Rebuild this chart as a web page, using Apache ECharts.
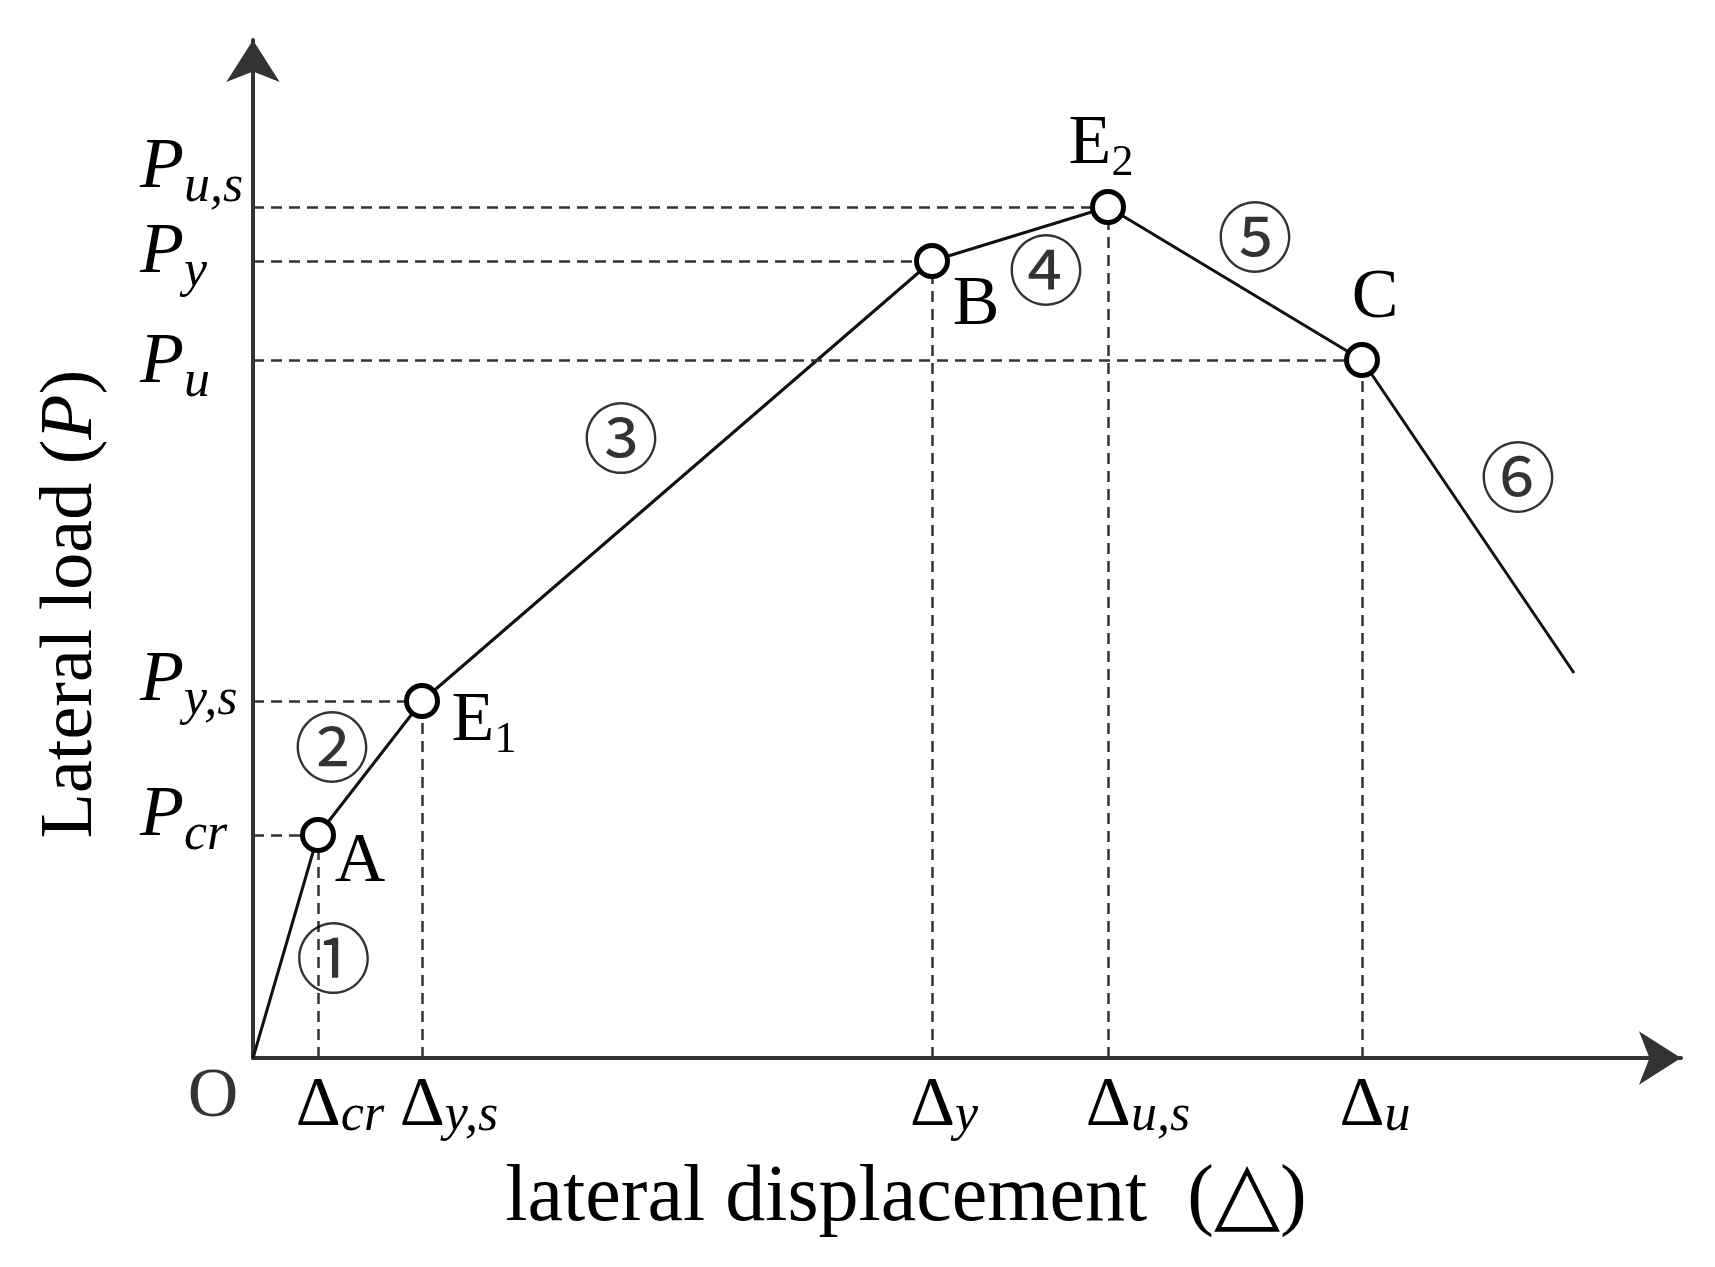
<!DOCTYPE html>
<html><head><meta charset="utf-8">
<script src="https://cdn.jsdelivr.net/npm/echarts@6/dist/echarts.min.js"></script>
<style>html,body{margin:0;padding:0;background:#fff}#c{width:1715px;height:1267px}</style>
</head><body><div id="c"></div>
<script>
// ---- data ----
const keyNames = ['A', 'E1', 'B', 'E2', 'C'];
const keyX = [6.5, 16.9, 67.9, 85.5, 110.9];
const keyY = [22.3, 35.7, 79.7, 85.1, 69.8];
const curveX = [0, 6.5, 16.9, 67.9, 85.5, 110.9, 132.1];
const curveY = [0, 22.3, 35.7, 79.7, 85.1, 69.8, 38.5];
const xTickSubs = ['cr', 'y,s', 'y', 'u,s', 'u'];
const yTickSubs = ['cr', 'y,s', 'y', 'u,s', 'u'];
const stageLabels = ['①', '②', '③', '④', '⑤', '⑥'];
const xMax = 142.8, yMax = 101.8;

// ---- styling ----
const SERIF = "'Liberation Serif', 'Times New Roman', serif";
const yLabelShift = [19, 20, 8, 39, -3];           // px upward
const keyLabelOffset = [[42, 28], [62, 21], [44, 45], [-7, -62], [13, -61]];
const stageOffset = [[48, 12], [-38, -21], [-56, -43], [26, 36], [20, -46], [50, -39]];
// label order for the x axis (so that ECharts' min/max-label overlap check does not drop a label)
const xLabelOrder = [2, 0, 1, 3, 4];

function nearest(arr, v) {
  let b = 0;
  for (let i = 1; i < arr.length; i++) if (Math.abs(arr[i] - v) < Math.abs(arr[b] - v)) b = i;
  return b;
}
const mctx = document.createElement('canvas').getContext('2d');
function textW(font, t) { mctx.font = font; return Math.ceil(mctx.measureText(t).width); }

const yRich = {
  P: { fontFamily: SERIF, fontStyle: 'italic', fontSize: 72, lineHeight: 90, verticalAlign: 'middle', color: '#000' },
  s: { fontFamily: SERIF, fontStyle: 'italic', fontSize: 52, lineHeight: 46, verticalAlign: 'bottom', color: '#000' }
};
yLabelShift.forEach((sh, i) => { yRich['g' + i] = { fontSize: 1, lineHeight: Math.max(1, 2 * Math.abs(sh)) }; });

const xRich = {
  D: { fontFamily: SERIF, fontSize: 70, lineHeight: 70, verticalAlign: 'middle', color: '#000' },
  s: { fontFamily: SERIF, fontStyle: 'italic', fontSize: 52, lineHeight: 32, verticalAlign: 'bottom', color: '#000' }
};
xTickSubs.forEach((t, i) => {
  xRich['sp' + i] = { width: textW("italic 52px " + SERIF, t), fontSize: 1, lineHeight: 1 };
});

const curveData = curveX.map((x, i) => [x, curveY[i]]);
const keyData = keyX.map((x, i) => ({
  value: [x, keyY[i]],
  name: keyNames[i],
  label: { offset: keyLabelOffset[i] }
}));
const stageData = stageLabels.map((t, i) => ({
  value: [(curveX[i] + curveX[i + 1]) / 2, (curveY[i] + curveY[i + 1]) / 2],
  name: t,
  label: { offset: stageOffset[i] }
}));

const guideLines = [];
keyX.forEach((x, i) => {
  guideLines.push([{ coord: [0, keyY[i]] }, { coord: [x, keyY[i]] }]);
  guideLines.push([{ coord: [x, 0] }, { coord: [x, keyY[i]] }]);
});

const chart = echarts.init(document.getElementById('c'), null, { renderer: 'canvas' });
chart.setOption({
  animation: false,
  backgroundColor: '#fff',
  grid: { left: 253, right: 34, top: 40, bottom: 209, containLabel: false, outerBoundsMode: 'none' },
  xAxis: {
    type: 'value', min: 0, max: xMax,
    axisLine: { show: true, symbol: ['none', 'arrow'], symbolSize: [40, 42], lineStyle: { color: '#333', width: 4 } },
    axisTick: { show: false },
    splitLine: { show: false },
    axisLabel: {
      show: true, customValues: xLabelOrder.map(i => keyX[i]), margin: 14, align: 'center', verticalAlign: 'top',
      hideOverlap: false, interval: 0, showMinLabel: true, showMaxLabel: true,
      formatter: v => { const i = nearest(keyX, v); return '{sp' + i + '| }{D|Δ}{s|' + xTickSubs[i] + '}'; },
      rich: xRich
    }
  },
  yAxis: {
    type: 'value', min: 0, max: yMax,
    axisLine: { show: true, symbol: ['none', 'arrow'], symbolSize: [40, 42], lineStyle: { color: '#333', width: 4 } },
    axisTick: { show: false },
    splitLine: { show: false },
    axisLabel: {
      show: true, customValues: keyY, margin: 113, align: 'left', verticalAlign: 'middle',
      hideOverlap: false, interval: 0, showMinLabel: true, showMaxLabel: true,
      formatter: v => {
        const i = nearest(keyY, v); const sh = yLabelShift[i];
        const main = '{P|P}{s|' + yTickSubs[i] + '}';
        if (sh > 0) return main + '\n{g' + i + '| }';
        if (sh < 0) return '{g' + i + '| }\n' + main;
        return main;
      },
      rich: yRich
    }
  },
  series: [
    {
      type: 'line', data: curveData, symbol: 'none', z: 3,
      lineStyle: { color: '#111', width: 3 },
      markLine: {
        silent: true, symbol: 'none', label: { show: false },
        lineStyle: { color: '#333', width: 2.5, type: [11, 7] },
        data: guideLines
      }
    },
    {
      type: 'scatter', data: keyData, symbol: 'circle', symbolSize: 31, z: 5,
      itemStyle: { color: '#fff', borderColor: '#000', borderWidth: 5, opacity: 1 },
      label: {
        show: true, position: 'inside', align: 'center', verticalAlign: 'middle',
        formatter: p => p.name.length > 1 ? '{L|' + p.name[0] + '}{n|' + p.name.slice(1) + '}' : '{L|' + p.name + '}',
        rich: {
          L: { fontFamily: SERIF, fontSize: 70, lineHeight: 80, verticalAlign: 'middle', color: '#000' },
          n: { fontFamily: SERIF, fontSize: 44, lineHeight: 36, verticalAlign: 'bottom', color: '#000' }
        }
      }
    },
    {
      type: 'scatter', data: stageData, symbolSize: 0, z: 6,
      label: {
        show: true, position: 'inside', align: 'center', verticalAlign: 'middle',
        formatter: p => p.name,
        fontFamily: "'Noto Sans CJK SC', 'DejaVu Sans', sans-serif", fontSize: 76, color: '#000'
      }
    },
    {
      type: 'scatter', data: [{ value: [0, 0], name: 'O' }], symbolSize: 0, z: 6,
      label: {
        show: true, position: 'inside', align: 'center', verticalAlign: 'middle', offset: [-40, 40],
        formatter: 'O', fontFamily: SERIF, fontSize: 70, color: '#000'
      }
    }
  ],
  graphic: [
    {
      type: 'text', x: 72, y: 604, rotation: Math.PI / 2,
      style: {
        text: '{t|Lateral load (}{i|P}{t|)}',
        align: 'center', verticalAlign: 'middle',
        rich: {
          t: { fontFamily: SERIF, fontSize: 74, fill: '#000' },
          i: { fontFamily: SERIF, fontStyle: 'italic', fontSize: 74, fill: '#000' }
        }
      }
    },
    {
      type: 'text', x: 906, y: 1199,
      style: {
        text: '{t|lateral displacement  (}{tri|△}{t|)}',
        align: 'center', verticalAlign: 'middle',
        rich: {
          t: { fontFamily: SERIF, fontSize: 80, lineHeight: 90, fill: '#000' },
          tri: { fontFamily: "'DejaVu Sans', sans-serif", fontSize: 86, lineHeight: 90, fill: '#000' }
        }
      }
    }
  ]
});
</script></body></html>
